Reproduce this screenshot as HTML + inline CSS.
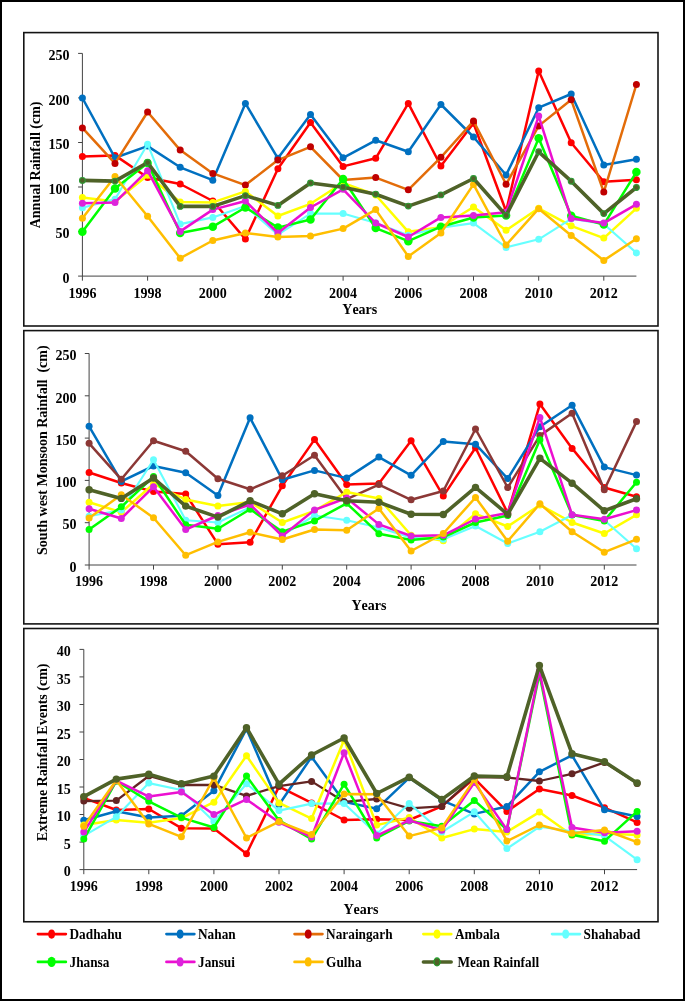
<!DOCTYPE html>
<html lang="en"><head><meta charset="utf-8"><title>Rainfall</title>
<style>html,body{margin:0;padding:0;background:#fff}svg{display:block}text{font-family:"Liberation Serif","Times New Roman",serif;font-weight:bold;fill:#000;font-kerning:none;white-space:pre}.t{font-size:14px}.s polyline{fill:none;stroke-linejoin:round;stroke-linecap:round}</style></head><body>
<svg width="685" height="1001" viewBox="0 0 685 1001">
<rect x="0" y="0" width="685" height="1001" fill="#fff"/>
<rect x="1" y="1" width="683" height="999" fill="none" stroke="#000" stroke-width="2"/>
<rect x="23.8" y="32.6" width="634.2" height="293.40" fill="#fff" stroke="#141414" stroke-width="1.6"/>
<rect x="23.8" y="330.6" width="634.2" height="293.30" fill="#fff" stroke="#141414" stroke-width="1.6"/>
<rect x="23.8" y="628.5" width="634.2" height="293.25" fill="#fff" stroke="#141414" stroke-width="1.6"/>
<g>
<path d="M82.4 53.4V276.1M78.1 276.1H636.4" stroke="#444444" stroke-width="1" fill="none"/>
<path d="M78.1 53.4H82.4M78.1 97.9H82.4M78.1 142.5H82.4M78.1 187H82.4M78.1 231.6H82.4M82.4 276.1V280.7M147.6 276.1V280.7M212.8 276.1V280.7M277.9 276.1V280.7M343.1 276.1V280.7M408.3 276.1V280.7M473.5 276.1V280.7M538.7 276.1V280.7M603.8 276.1V280.7" stroke="#444444" stroke-width="1" fill="none"/>
<text class="t" x="69.6" y="60.1" text-anchor="end">250</text>
<text class="t" x="69.6" y="104.6" text-anchor="end">200</text>
<text class="t" x="69.6" y="149.2" text-anchor="end">150</text>
<text class="t" x="69.6" y="193.7" text-anchor="end">100</text>
<text class="t" x="69.6" y="238.3" text-anchor="end">50</text>
<text class="t" x="69.6" y="282.8" text-anchor="end">0</text>
<text class="t" x="82.4" y="297.6" text-anchor="middle">1996</text>
<text class="t" x="147.6" y="297.6" text-anchor="middle">1998</text>
<text class="t" x="212.8" y="297.6" text-anchor="middle">2000</text>
<text class="t" x="277.9" y="297.6" text-anchor="middle">2002</text>
<text class="t" x="343.1" y="297.6" text-anchor="middle">2004</text>
<text class="t" x="408.3" y="297.6" text-anchor="middle">2006</text>
<text class="t" x="473.5" y="297.6" text-anchor="middle">2008</text>
<text class="t" x="538.7" y="297.6" text-anchor="middle">2010</text>
<text class="t" x="603.8" y="297.6" text-anchor="middle">2012</text>
<text class="t" x="359.8" y="313.6" text-anchor="middle">Years</text>
<text class="t" transform="translate(40.4 228.3) rotate(-90)">Annual Rainfall (cm)</text>
<g class="s">
<polyline points="82.4,156.4 115,155.4 147.6,177.5 180.2,184 212.8,201 245.4,239.1 277.9,168.8 310.5,122.5 343.1,166.4 375.7,158.3 408.3,103.4 440.9,166 473.5,123.2 506.1,211.2 538.7,71 571.2,142.8 603.8,181.8 636.4,179.8" stroke="#FF0000" stroke-width="2.5"/>
<circle cx="82.4" cy="156.4" r="3.5" fill="#FF0000"/>
<circle cx="115" cy="155.4" r="3.5" fill="#FF0000"/>
<circle cx="147.6" cy="177.5" r="3.5" fill="#FF0000"/>
<circle cx="180.2" cy="184" r="3.5" fill="#FF0000"/>
<circle cx="212.8" cy="201" r="3.5" fill="#FF0000"/>
<circle cx="245.4" cy="239.1" r="3.5" fill="#FF0000"/>
<circle cx="277.9" cy="168.8" r="3.5" fill="#FF0000"/>
<circle cx="310.5" cy="122.5" r="3.5" fill="#FF0000"/>
<circle cx="343.1" cy="166.4" r="3.5" fill="#FF0000"/>
<circle cx="375.7" cy="158.3" r="3.5" fill="#FF0000"/>
<circle cx="408.3" cy="103.4" r="3.5" fill="#FF0000"/>
<circle cx="440.9" cy="166" r="3.5" fill="#FF0000"/>
<circle cx="473.5" cy="123.2" r="3.5" fill="#FF0000"/>
<circle cx="506.1" cy="211.2" r="3.5" fill="#FF0000"/>
<circle cx="538.7" cy="71" r="3.5" fill="#FF0000"/>
<circle cx="571.2" cy="142.8" r="3.5" fill="#FF0000"/>
<circle cx="603.8" cy="181.8" r="3.5" fill="#FF0000"/>
<circle cx="636.4" cy="179.8" r="3.5" fill="#FF0000"/>
<polyline points="82.4,98 115,157.8 147.6,146.1 180.2,167.3 212.8,180.2 245.4,103.4 277.9,158.3 310.5,114.6 343.1,157.8 375.7,140.3 408.3,151.7 440.9,104.5 473.5,137 506.1,175 538.7,107.7 571.2,94 603.8,165 636.4,159.2" stroke="#0070C0" stroke-width="2.5"/>
<circle cx="82.4" cy="98" r="3.5" fill="#0070C0"/>
<circle cx="115" cy="157.8" r="3.5" fill="#0070C0"/>
<circle cx="147.6" cy="146.1" r="3.5" fill="#0070C0"/>
<circle cx="180.2" cy="167.3" r="3.5" fill="#0070C0"/>
<circle cx="212.8" cy="180.2" r="3.5" fill="#0070C0"/>
<circle cx="245.4" cy="103.4" r="3.5" fill="#0070C0"/>
<circle cx="277.9" cy="158.3" r="3.5" fill="#0070C0"/>
<circle cx="310.5" cy="114.6" r="3.5" fill="#0070C0"/>
<circle cx="343.1" cy="157.8" r="3.5" fill="#0070C0"/>
<circle cx="375.7" cy="140.3" r="3.5" fill="#0070C0"/>
<circle cx="408.3" cy="151.7" r="3.5" fill="#0070C0"/>
<circle cx="440.9" cy="104.5" r="3.5" fill="#0070C0"/>
<circle cx="473.5" cy="137" r="3.5" fill="#0070C0"/>
<circle cx="506.1" cy="175" r="3.5" fill="#0070C0"/>
<circle cx="538.7" cy="107.7" r="3.5" fill="#0070C0"/>
<circle cx="571.2" cy="94" r="3.5" fill="#0070C0"/>
<circle cx="603.8" cy="165" r="3.5" fill="#0070C0"/>
<circle cx="636.4" cy="159.2" r="3.5" fill="#0070C0"/>
<polyline points="82.4,127.9 115,163.4 147.6,112 180.2,150.1 212.8,173.4 245.4,185.1 277.9,160.1 310.5,146.8 343.1,180 375.7,177.6 408.3,189.8 440.9,157.3 473.5,121 506.1,184.3 538.7,125.9 571.2,99.8 603.8,192.1 636.4,84.5" stroke="#E36C09" stroke-width="2.5"/>
<circle cx="82.4" cy="127.9" r="3.5" fill="#C00000"/>
<circle cx="115" cy="163.4" r="3.5" fill="#C00000"/>
<circle cx="147.6" cy="112" r="3.5" fill="#C00000"/>
<circle cx="180.2" cy="150.1" r="3.5" fill="#C00000"/>
<circle cx="212.8" cy="173.4" r="3.5" fill="#C00000"/>
<circle cx="245.4" cy="185.1" r="3.5" fill="#C00000"/>
<circle cx="277.9" cy="160.1" r="3.5" fill="#C00000"/>
<circle cx="310.5" cy="146.8" r="3.5" fill="#C00000"/>
<circle cx="343.1" cy="180" r="3.5" fill="#C00000"/>
<circle cx="375.7" cy="177.6" r="3.5" fill="#C00000"/>
<circle cx="408.3" cy="189.8" r="3.5" fill="#C00000"/>
<circle cx="440.9" cy="157.3" r="3.5" fill="#C00000"/>
<circle cx="473.5" cy="121" r="3.5" fill="#C00000"/>
<circle cx="506.1" cy="184.3" r="3.5" fill="#C00000"/>
<circle cx="538.7" cy="125.9" r="3.5" fill="#C00000"/>
<circle cx="571.2" cy="99.8" r="3.5" fill="#C00000"/>
<circle cx="603.8" cy="192.1" r="3.5" fill="#C00000"/>
<circle cx="636.4" cy="84.5" r="3.5" fill="#C00000"/>
<polyline points="82.4,197.5 115,201.5 147.6,175.2 180.2,202 212.8,202.4 245.4,191.4 277.9,216 310.5,203.8 343.1,182.8 375.7,195 408.3,231.8 440.9,227.2 473.5,207 506.1,230.3 538.7,208.3 571.2,225.8 603.8,238.1 636.4,208.3" stroke="#FFFF00" stroke-width="2.5"/>
<circle cx="82.4" cy="197.5" r="3.5" fill="#FFFF00"/>
<circle cx="115" cy="201.5" r="3.5" fill="#FFFF00"/>
<circle cx="147.6" cy="175.2" r="3.5" fill="#FFFF00"/>
<circle cx="180.2" cy="202" r="3.5" fill="#FFFF00"/>
<circle cx="212.8" cy="202.4" r="3.5" fill="#FFFF00"/>
<circle cx="245.4" cy="191.4" r="3.5" fill="#FFFF00"/>
<circle cx="277.9" cy="216" r="3.5" fill="#FFFF00"/>
<circle cx="310.5" cy="203.8" r="3.5" fill="#FFFF00"/>
<circle cx="343.1" cy="182.8" r="3.5" fill="#FFFF00"/>
<circle cx="375.7" cy="195" r="3.5" fill="#FFFF00"/>
<circle cx="408.3" cy="231.8" r="3.5" fill="#FFFF00"/>
<circle cx="440.9" cy="227.2" r="3.5" fill="#FFFF00"/>
<circle cx="473.5" cy="207" r="3.5" fill="#FFFF00"/>
<circle cx="506.1" cy="230.3" r="3.5" fill="#FFFF00"/>
<circle cx="538.7" cy="208.3" r="3.5" fill="#FFFF00"/>
<circle cx="571.2" cy="225.8" r="3.5" fill="#FFFF00"/>
<circle cx="603.8" cy="238.1" r="3.5" fill="#FFFF00"/>
<circle cx="636.4" cy="208.3" r="3.5" fill="#FFFF00"/>
<polyline points="82.4,207.8 115,199.2 147.6,144.2 180.2,224.1 212.8,217.4 245.4,206.1 277.9,234.6 310.5,213.6 343.1,213.6 375.7,223 408.3,235.3 440.9,227.6 473.5,223.1 506.1,247.4 538.7,239.3 571.2,218.8 603.8,224 636.4,252.9" stroke="#66FFFF" stroke-width="2.1"/>
<circle cx="82.4" cy="207.8" r="3.5" fill="#66FFFF"/>
<circle cx="115" cy="199.2" r="3.5" fill="#66FFFF"/>
<circle cx="147.6" cy="144.2" r="3.5" fill="#66FFFF"/>
<circle cx="180.2" cy="224.1" r="3.5" fill="#66FFFF"/>
<circle cx="212.8" cy="217.4" r="3.5" fill="#66FFFF"/>
<circle cx="245.4" cy="206.1" r="3.5" fill="#66FFFF"/>
<circle cx="277.9" cy="234.6" r="3.5" fill="#66FFFF"/>
<circle cx="310.5" cy="213.6" r="3.5" fill="#66FFFF"/>
<circle cx="343.1" cy="213.6" r="3.5" fill="#66FFFF"/>
<circle cx="375.7" cy="223" r="3.5" fill="#66FFFF"/>
<circle cx="408.3" cy="235.3" r="3.5" fill="#66FFFF"/>
<circle cx="440.9" cy="227.6" r="3.5" fill="#66FFFF"/>
<circle cx="473.5" cy="223.1" r="3.5" fill="#66FFFF"/>
<circle cx="506.1" cy="247.4" r="3.5" fill="#66FFFF"/>
<circle cx="538.7" cy="239.3" r="3.5" fill="#66FFFF"/>
<circle cx="571.2" cy="218.8" r="3.5" fill="#66FFFF"/>
<circle cx="603.8" cy="224" r="3.5" fill="#66FFFF"/>
<circle cx="636.4" cy="252.9" r="3.5" fill="#66FFFF"/>
<polyline points="82.4,231.8 115,188.6 147.6,163 180.2,233 212.8,226.7 245.4,207.5 277.9,227.6 310.5,219.5 343.1,179 375.7,228.1 408.3,241.2 440.9,226.7 473.5,217.5 506.1,215.4 538.7,138.3 571.2,215.7 603.8,224.6 636.4,172.1" stroke="#00FF00" stroke-width="2.5"/>
<circle cx="82.4" cy="231.8" r="4.25" fill="#00FF00"/>
<circle cx="115" cy="188.6" r="4.25" fill="#00FF00"/>
<circle cx="147.6" cy="163" r="4.25" fill="#00FF00"/>
<circle cx="180.2" cy="233" r="4.25" fill="#00FF00"/>
<circle cx="212.8" cy="226.7" r="4.25" fill="#00FF00"/>
<circle cx="245.4" cy="207.5" r="4.25" fill="#00FF00"/>
<circle cx="277.9" cy="227.6" r="4.25" fill="#00FF00"/>
<circle cx="310.5" cy="219.5" r="4.25" fill="#00FF00"/>
<circle cx="343.1" cy="179" r="4.25" fill="#00FF00"/>
<circle cx="375.7" cy="228.1" r="4.25" fill="#00FF00"/>
<circle cx="408.3" cy="241.2" r="4.25" fill="#00FF00"/>
<circle cx="440.9" cy="226.7" r="4.25" fill="#00FF00"/>
<circle cx="473.5" cy="217.5" r="4.25" fill="#00FF00"/>
<circle cx="506.1" cy="215.4" r="4.25" fill="#00FF00"/>
<circle cx="538.7" cy="138.3" r="4.25" fill="#00FF00"/>
<circle cx="571.2" cy="215.7" r="4.25" fill="#00FF00"/>
<circle cx="603.8" cy="224.6" r="4.25" fill="#00FF00"/>
<circle cx="636.4" cy="172.1" r="4.25" fill="#00FF00"/>
<polyline points="82.4,203.3 115,202.4 147.6,170.7 180.2,231.4 212.8,209.6 245.4,201 277.9,233 310.5,207.5 343.1,189.3 375.7,223 408.3,237 440.9,217.4 473.5,215.4 506.1,212.3 538.7,116.1 571.2,218.5 603.8,223.1 636.4,204.3" stroke="#EC0FD0" stroke-width="2.5"/>
<circle cx="82.4" cy="203.3" r="3.5" fill="#DC24DC"/>
<circle cx="115" cy="202.4" r="3.5" fill="#DC24DC"/>
<circle cx="147.6" cy="170.7" r="3.5" fill="#DC24DC"/>
<circle cx="180.2" cy="231.4" r="3.5" fill="#DC24DC"/>
<circle cx="212.8" cy="209.6" r="3.5" fill="#DC24DC"/>
<circle cx="245.4" cy="201" r="3.5" fill="#DC24DC"/>
<circle cx="277.9" cy="233" r="3.5" fill="#DC24DC"/>
<circle cx="310.5" cy="207.5" r="3.5" fill="#DC24DC"/>
<circle cx="343.1" cy="189.3" r="3.5" fill="#DC24DC"/>
<circle cx="375.7" cy="223" r="3.5" fill="#DC24DC"/>
<circle cx="408.3" cy="237" r="3.5" fill="#DC24DC"/>
<circle cx="440.9" cy="217.4" r="3.5" fill="#DC24DC"/>
<circle cx="473.5" cy="215.4" r="3.5" fill="#DC24DC"/>
<circle cx="506.1" cy="212.3" r="3.5" fill="#DC24DC"/>
<circle cx="538.7" cy="116.1" r="3.5" fill="#DC24DC"/>
<circle cx="571.2" cy="218.5" r="3.5" fill="#DC24DC"/>
<circle cx="603.8" cy="223.1" r="3.5" fill="#DC24DC"/>
<circle cx="636.4" cy="204.3" r="3.5" fill="#DC24DC"/>
<polyline points="82.4,218.3 115,176.5 147.6,216.2 180.2,258.2 212.8,240.5 245.4,233 277.9,237 310.5,236 343.1,228.6 375.7,209.6 408.3,256.4 440.9,233 473.5,184.4 506.1,245 538.7,208.7 571.2,235.5 603.8,260.4 636.4,238.7" stroke="#FFBE00" stroke-width="2.5"/>
<circle cx="82.4" cy="218.3" r="3.5" fill="#FFBE00"/>
<circle cx="115" cy="176.5" r="3.5" fill="#FFBE00"/>
<circle cx="147.6" cy="216.2" r="3.5" fill="#FFBE00"/>
<circle cx="180.2" cy="258.2" r="3.5" fill="#FFBE00"/>
<circle cx="212.8" cy="240.5" r="3.5" fill="#FFBE00"/>
<circle cx="245.4" cy="233" r="3.5" fill="#FFBE00"/>
<circle cx="277.9" cy="237" r="3.5" fill="#FFBE00"/>
<circle cx="310.5" cy="236" r="3.5" fill="#FFBE00"/>
<circle cx="343.1" cy="228.6" r="3.5" fill="#FFBE00"/>
<circle cx="375.7" cy="209.6" r="3.5" fill="#FFBE00"/>
<circle cx="408.3" cy="256.4" r="3.5" fill="#FFBE00"/>
<circle cx="440.9" cy="233" r="3.5" fill="#FFBE00"/>
<circle cx="473.5" cy="184.4" r="3.5" fill="#FFBE00"/>
<circle cx="506.1" cy="245" r="3.5" fill="#FFBE00"/>
<circle cx="538.7" cy="208.7" r="3.5" fill="#FFBE00"/>
<circle cx="571.2" cy="235.5" r="3.5" fill="#FFBE00"/>
<circle cx="603.8" cy="260.4" r="3.5" fill="#FFBE00"/>
<circle cx="636.4" cy="238.7" r="3.5" fill="#FFBE00"/>
<polyline points="82.4,180.4 115,181.1 147.6,162.5 180.2,206.4 212.8,206.4 245.4,195.6 277.9,205.4 310.5,183 343.1,187.2 375.7,194.2 408.3,206.1 440.9,194.9 473.5,178.5 506.1,215.4 538.7,151.8 571.2,181.2 603.8,213.6 636.4,187.5" stroke="#4F6228" stroke-width="3.6"/>
<circle cx="82.4" cy="180.4" r="2.9" fill="#4F6228" stroke="#2D9A35" stroke-width="1.1"/>
<circle cx="115" cy="181.1" r="2.9" fill="#4F6228" stroke="#2D9A35" stroke-width="1.1"/>
<circle cx="147.6" cy="162.5" r="2.9" fill="#4F6228" stroke="#2D9A35" stroke-width="1.1"/>
<circle cx="180.2" cy="206.4" r="2.9" fill="#4F6228" stroke="#2D9A35" stroke-width="1.1"/>
<circle cx="212.8" cy="206.4" r="2.9" fill="#4F6228" stroke="#2D9A35" stroke-width="1.1"/>
<circle cx="245.4" cy="195.6" r="2.9" fill="#4F6228" stroke="#2D9A35" stroke-width="1.1"/>
<circle cx="277.9" cy="205.4" r="2.9" fill="#4F6228" stroke="#2D9A35" stroke-width="1.1"/>
<circle cx="310.5" cy="183" r="2.9" fill="#4F6228" stroke="#2D9A35" stroke-width="1.1"/>
<circle cx="343.1" cy="187.2" r="2.9" fill="#4F6228" stroke="#2D9A35" stroke-width="1.1"/>
<circle cx="375.7" cy="194.2" r="2.9" fill="#4F6228" stroke="#2D9A35" stroke-width="1.1"/>
<circle cx="408.3" cy="206.1" r="2.9" fill="#4F6228" stroke="#2D9A35" stroke-width="1.1"/>
<circle cx="440.9" cy="194.9" r="2.9" fill="#4F6228" stroke="#2D9A35" stroke-width="1.1"/>
<circle cx="473.5" cy="178.5" r="2.9" fill="#4F6228" stroke="#2D9A35" stroke-width="1.1"/>
<circle cx="506.1" cy="215.4" r="2.9" fill="#4F6228" stroke="#2D9A35" stroke-width="1.1"/>
<circle cx="538.7" cy="151.8" r="2.9" fill="#4F6228" stroke="#2D9A35" stroke-width="1.1"/>
<circle cx="571.2" cy="181.2" r="2.9" fill="#4F6228" stroke="#2D9A35" stroke-width="1.1"/>
<circle cx="603.8" cy="213.6" r="2.9" fill="#4F6228" stroke="#2D9A35" stroke-width="1.1"/>
<circle cx="636.4" cy="187.5" r="2.9" fill="#4F6228" stroke="#2D9A35" stroke-width="1.1"/>
</g></g>
<g>
<path d="M89.1 353.5V565M84.8 565H636.5" stroke="#444444" stroke-width="1" fill="none"/>
<path d="M84.8 353.5H89.1M84.8 395.8H89.1M84.8 438.1H89.1M84.8 480.4H89.1M84.8 522.7H89.1M89.1 565V569.6M153.5 565V569.6M217.9 565V569.6M282.3 565V569.6M346.7 565V569.6M411.1 565V569.6M475.5 565V569.6M539.9 565V569.6M604.3 565V569.6" stroke="#444444" stroke-width="1" fill="none"/>
<text class="t" x="76.6" y="360.2" text-anchor="end">250</text>
<text class="t" x="76.6" y="402.5" text-anchor="end">200</text>
<text class="t" x="76.6" y="444.8" text-anchor="end">150</text>
<text class="t" x="76.6" y="487.1" text-anchor="end">100</text>
<text class="t" x="76.6" y="529.4" text-anchor="end">50</text>
<text class="t" x="76.6" y="571.7" text-anchor="end">0</text>
<text class="t" x="89.1" y="586" text-anchor="middle">1996</text>
<text class="t" x="153.5" y="586" text-anchor="middle">1998</text>
<text class="t" x="217.9" y="586" text-anchor="middle">2000</text>
<text class="t" x="282.3" y="586" text-anchor="middle">2002</text>
<text class="t" x="346.7" y="586" text-anchor="middle">2004</text>
<text class="t" x="411.1" y="586" text-anchor="middle">2006</text>
<text class="t" x="475.5" y="586" text-anchor="middle">2008</text>
<text class="t" x="539.9" y="586" text-anchor="middle">2010</text>
<text class="t" x="604.3" y="586" text-anchor="middle">2012</text>
<text class="t" x="368.9" y="609.7" text-anchor="middle">Years</text>
<text class="t" transform="translate(46.5 555) rotate(-90)">South west Monsoon Rainfall  (cm)</text>
<g class="s">
<polyline points="89.1,472.5 121.3,483 153.5,491.6 185.7,494 217.9,544.2 250.1,542.3 282.3,485.8 314.5,439.6 346.7,484.6 378.9,483.5 411.1,440.7 443.3,496.1 475.5,447.7 507.7,513.1 539.9,404.1 572.1,448.4 604.3,487.5 636.5,496.8" stroke="#FF0000" stroke-width="2.5"/>
<circle cx="89.1" cy="472.5" r="3.5" fill="#FF0000"/>
<circle cx="121.3" cy="483" r="3.5" fill="#FF0000"/>
<circle cx="153.5" cy="491.6" r="3.5" fill="#FF0000"/>
<circle cx="185.7" cy="494" r="3.5" fill="#FF0000"/>
<circle cx="217.9" cy="544.2" r="3.5" fill="#FF0000"/>
<circle cx="250.1" cy="542.3" r="3.5" fill="#FF0000"/>
<circle cx="282.3" cy="485.8" r="3.5" fill="#FF0000"/>
<circle cx="314.5" cy="439.6" r="3.5" fill="#FF0000"/>
<circle cx="346.7" cy="484.6" r="3.5" fill="#FF0000"/>
<circle cx="378.9" cy="483.5" r="3.5" fill="#FF0000"/>
<circle cx="411.1" cy="440.7" r="3.5" fill="#FF0000"/>
<circle cx="443.3" cy="496.1" r="3.5" fill="#FF0000"/>
<circle cx="475.5" cy="447.7" r="3.5" fill="#FF0000"/>
<circle cx="507.7" cy="513.1" r="3.5" fill="#FF0000"/>
<circle cx="539.9" cy="404.1" r="3.5" fill="#FF0000"/>
<circle cx="572.1" cy="448.4" r="3.5" fill="#FF0000"/>
<circle cx="604.3" cy="487.5" r="3.5" fill="#FF0000"/>
<circle cx="636.5" cy="496.8" r="3.5" fill="#FF0000"/>
<polyline points="89.1,426.3 121.3,481.4 153.5,466 185.7,472.7 217.9,495.6 250.1,417.8 282.3,479.7 314.5,470.4 346.7,478.1 378.9,457.1 411.1,475.3 443.3,441.4 475.5,444.2 507.7,478.6 539.9,426.7 572.1,405.2 604.3,467.1 636.5,475.1" stroke="#0070C0" stroke-width="2.5"/>
<circle cx="89.1" cy="426.3" r="3.5" fill="#0070C0"/>
<circle cx="121.3" cy="481.4" r="3.5" fill="#0070C0"/>
<circle cx="153.5" cy="466" r="3.5" fill="#0070C0"/>
<circle cx="185.7" cy="472.7" r="3.5" fill="#0070C0"/>
<circle cx="217.9" cy="495.6" r="3.5" fill="#0070C0"/>
<circle cx="250.1" cy="417.8" r="3.5" fill="#0070C0"/>
<circle cx="282.3" cy="479.7" r="3.5" fill="#0070C0"/>
<circle cx="314.5" cy="470.4" r="3.5" fill="#0070C0"/>
<circle cx="346.7" cy="478.1" r="3.5" fill="#0070C0"/>
<circle cx="378.9" cy="457.1" r="3.5" fill="#0070C0"/>
<circle cx="411.1" cy="475.3" r="3.5" fill="#0070C0"/>
<circle cx="443.3" cy="441.4" r="3.5" fill="#0070C0"/>
<circle cx="475.5" cy="444.2" r="3.5" fill="#0070C0"/>
<circle cx="507.7" cy="478.6" r="3.5" fill="#0070C0"/>
<circle cx="539.9" cy="426.7" r="3.5" fill="#0070C0"/>
<circle cx="572.1" cy="405.2" r="3.5" fill="#0070C0"/>
<circle cx="604.3" cy="467.1" r="3.5" fill="#0070C0"/>
<circle cx="636.5" cy="475.1" r="3.5" fill="#0070C0"/>
<polyline points="89.1,443.3 121.3,479.3 153.5,440.7 185.7,451.2 217.9,478.8 250.1,489.3 282.3,475.8 314.5,455.2 346.7,499.1 378.9,484.6 411.1,499.8 443.3,491 475.5,429 507.7,487.5 539.9,435.6 572.1,413.2 604.3,489.8 636.5,421.6" stroke="#8C3836" stroke-width="2.5"/>
<circle cx="89.1" cy="443.3" r="3.5" fill="#8C3836"/>
<circle cx="121.3" cy="479.3" r="3.5" fill="#8C3836"/>
<circle cx="153.5" cy="440.7" r="3.5" fill="#8C3836"/>
<circle cx="185.7" cy="451.2" r="3.5" fill="#8C3836"/>
<circle cx="217.9" cy="478.8" r="3.5" fill="#8C3836"/>
<circle cx="250.1" cy="489.3" r="3.5" fill="#8C3836"/>
<circle cx="282.3" cy="475.8" r="3.5" fill="#8C3836"/>
<circle cx="314.5" cy="455.2" r="3.5" fill="#8C3836"/>
<circle cx="346.7" cy="499.1" r="3.5" fill="#8C3836"/>
<circle cx="378.9" cy="484.6" r="3.5" fill="#8C3836"/>
<circle cx="411.1" cy="499.8" r="3.5" fill="#8C3836"/>
<circle cx="443.3" cy="491" r="3.5" fill="#8C3836"/>
<circle cx="475.5" cy="429" r="3.5" fill="#8C3836"/>
<circle cx="507.7" cy="487.5" r="3.5" fill="#8C3836"/>
<circle cx="539.9" cy="435.6" r="3.5" fill="#8C3836"/>
<circle cx="572.1" cy="413.2" r="3.5" fill="#8C3836"/>
<circle cx="604.3" cy="489.8" r="3.5" fill="#8C3836"/>
<circle cx="636.5" cy="421.6" r="3.5" fill="#8C3836"/>
<polyline points="89.1,502.2 121.3,512.3 153.5,484 185.7,499.6 217.9,506.1 250.1,502 282.3,522.5 314.5,510.8 346.7,492.1 378.9,498.4 411.1,535.3 443.3,540.7 475.5,513.8 507.7,526.5 539.9,505 572.1,522.5 604.3,533.5 636.5,514.8" stroke="#FFFF00" stroke-width="2.5"/>
<circle cx="89.1" cy="502.2" r="3.5" fill="#FFFF00"/>
<circle cx="121.3" cy="512.3" r="3.5" fill="#FFFF00"/>
<circle cx="153.5" cy="484" r="3.5" fill="#FFFF00"/>
<circle cx="185.7" cy="499.6" r="3.5" fill="#FFFF00"/>
<circle cx="217.9" cy="506.1" r="3.5" fill="#FFFF00"/>
<circle cx="250.1" cy="502" r="3.5" fill="#FFFF00"/>
<circle cx="282.3" cy="522.5" r="3.5" fill="#FFFF00"/>
<circle cx="314.5" cy="510.8" r="3.5" fill="#FFFF00"/>
<circle cx="346.7" cy="492.1" r="3.5" fill="#FFFF00"/>
<circle cx="378.9" cy="498.4" r="3.5" fill="#FFFF00"/>
<circle cx="411.1" cy="535.3" r="3.5" fill="#FFFF00"/>
<circle cx="443.3" cy="540.7" r="3.5" fill="#FFFF00"/>
<circle cx="475.5" cy="513.8" r="3.5" fill="#FFFF00"/>
<circle cx="507.7" cy="526.5" r="3.5" fill="#FFFF00"/>
<circle cx="539.9" cy="505" r="3.5" fill="#FFFF00"/>
<circle cx="572.1" cy="522.5" r="3.5" fill="#FFFF00"/>
<circle cx="604.3" cy="533.5" r="3.5" fill="#FFFF00"/>
<circle cx="636.5" cy="514.8" r="3.5" fill="#FFFF00"/>
<polyline points="89.1,516.2 121.3,510 153.5,459.8 185.7,520.2 217.9,522.5 250.1,507.3 282.3,535.3 314.5,515.5 346.7,520.2 378.9,527.6 411.1,537.7 443.3,539.3 475.5,526 507.7,543.5 539.9,531.8 572.1,515 604.3,520.2 636.5,548.7" stroke="#66FFFF" stroke-width="2.1"/>
<circle cx="89.1" cy="516.2" r="3.5" fill="#66FFFF"/>
<circle cx="121.3" cy="510" r="3.5" fill="#66FFFF"/>
<circle cx="153.5" cy="459.8" r="3.5" fill="#66FFFF"/>
<circle cx="185.7" cy="520.2" r="3.5" fill="#66FFFF"/>
<circle cx="217.9" cy="522.5" r="3.5" fill="#66FFFF"/>
<circle cx="250.1" cy="507.3" r="3.5" fill="#66FFFF"/>
<circle cx="282.3" cy="535.3" r="3.5" fill="#66FFFF"/>
<circle cx="314.5" cy="515.5" r="3.5" fill="#66FFFF"/>
<circle cx="346.7" cy="520.2" r="3.5" fill="#66FFFF"/>
<circle cx="378.9" cy="527.6" r="3.5" fill="#66FFFF"/>
<circle cx="411.1" cy="537.7" r="3.5" fill="#66FFFF"/>
<circle cx="443.3" cy="539.3" r="3.5" fill="#66FFFF"/>
<circle cx="475.5" cy="526" r="3.5" fill="#66FFFF"/>
<circle cx="507.7" cy="543.5" r="3.5" fill="#66FFFF"/>
<circle cx="539.9" cy="531.8" r="3.5" fill="#66FFFF"/>
<circle cx="572.1" cy="515" r="3.5" fill="#66FFFF"/>
<circle cx="604.3" cy="520.2" r="3.5" fill="#66FFFF"/>
<circle cx="636.5" cy="548.7" r="3.5" fill="#66FFFF"/>
<polyline points="89.1,529.5 121.3,506.8 153.5,476.5 185.7,524.8 217.9,528.8 250.1,509.2 282.3,531.8 314.5,520.9 346.7,503.3 378.9,533.7 411.1,540 443.3,537 475.5,522.5 507.7,515.5 539.9,439.8 572.1,515 604.3,520.9 636.5,482.3" stroke="#00FF00" stroke-width="2.5"/>
<circle cx="89.1" cy="529.5" r="3.5" fill="#00FF00"/>
<circle cx="121.3" cy="506.8" r="3.5" fill="#00FF00"/>
<circle cx="153.5" cy="476.5" r="3.5" fill="#00FF00"/>
<circle cx="185.7" cy="524.8" r="3.5" fill="#00FF00"/>
<circle cx="217.9" cy="528.8" r="3.5" fill="#00FF00"/>
<circle cx="250.1" cy="509.2" r="3.5" fill="#00FF00"/>
<circle cx="282.3" cy="531.8" r="3.5" fill="#00FF00"/>
<circle cx="314.5" cy="520.9" r="3.5" fill="#00FF00"/>
<circle cx="346.7" cy="503.3" r="3.5" fill="#00FF00"/>
<circle cx="378.9" cy="533.7" r="3.5" fill="#00FF00"/>
<circle cx="411.1" cy="540" r="3.5" fill="#00FF00"/>
<circle cx="443.3" cy="537" r="3.5" fill="#00FF00"/>
<circle cx="475.5" cy="522.5" r="3.5" fill="#00FF00"/>
<circle cx="507.7" cy="515.5" r="3.5" fill="#00FF00"/>
<circle cx="539.9" cy="439.8" r="3.5" fill="#00FF00"/>
<circle cx="572.1" cy="515" r="3.5" fill="#00FF00"/>
<circle cx="604.3" cy="520.9" r="3.5" fill="#00FF00"/>
<circle cx="636.5" cy="482.3" r="3.5" fill="#00FF00"/>
<polyline points="89.1,508.7 121.3,518.5 153.5,486.8 185.7,529.5 217.9,515.5 250.1,504.5 282.3,536 314.5,509.9 346.7,498 378.9,524.4 411.1,536 443.3,535.3 475.5,519 507.7,513.1 539.9,417.4 572.1,514.8 604.3,519.2 636.5,510.1" stroke="#EC0FD0" stroke-width="2.5"/>
<circle cx="89.1" cy="508.7" r="3.5" fill="#DC24DC"/>
<circle cx="121.3" cy="518.5" r="3.5" fill="#DC24DC"/>
<circle cx="153.5" cy="486.8" r="3.5" fill="#DC24DC"/>
<circle cx="185.7" cy="529.5" r="3.5" fill="#DC24DC"/>
<circle cx="217.9" cy="515.5" r="3.5" fill="#DC24DC"/>
<circle cx="250.1" cy="504.5" r="3.5" fill="#DC24DC"/>
<circle cx="282.3" cy="536" r="3.5" fill="#DC24DC"/>
<circle cx="314.5" cy="509.9" r="3.5" fill="#DC24DC"/>
<circle cx="346.7" cy="498" r="3.5" fill="#DC24DC"/>
<circle cx="378.9" cy="524.4" r="3.5" fill="#DC24DC"/>
<circle cx="411.1" cy="536" r="3.5" fill="#DC24DC"/>
<circle cx="443.3" cy="535.3" r="3.5" fill="#DC24DC"/>
<circle cx="475.5" cy="519" r="3.5" fill="#DC24DC"/>
<circle cx="507.7" cy="513.1" r="3.5" fill="#DC24DC"/>
<circle cx="539.9" cy="417.4" r="3.5" fill="#DC24DC"/>
<circle cx="572.1" cy="514.8" r="3.5" fill="#DC24DC"/>
<circle cx="604.3" cy="519.2" r="3.5" fill="#DC24DC"/>
<circle cx="636.5" cy="510.1" r="3.5" fill="#DC24DC"/>
<polyline points="89.1,518.1 121.3,494.7 153.5,517.8 185.7,555.2 217.9,541.9 250.1,532.3 282.3,539.5 314.5,529.5 346.7,530.2 378.9,508.5 411.1,551 443.3,533.5 475.5,497.5 507.7,541.2 539.9,503.8 572.1,531.8 604.3,552.2 636.5,539.3" stroke="#FFBE00" stroke-width="2.5"/>
<circle cx="89.1" cy="518.1" r="3.5" fill="#FFBE00"/>
<circle cx="121.3" cy="494.7" r="3.5" fill="#FFBE00"/>
<circle cx="153.5" cy="517.8" r="3.5" fill="#FFBE00"/>
<circle cx="185.7" cy="555.2" r="3.5" fill="#FFBE00"/>
<circle cx="217.9" cy="541.9" r="3.5" fill="#FFBE00"/>
<circle cx="250.1" cy="532.3" r="3.5" fill="#FFBE00"/>
<circle cx="282.3" cy="539.5" r="3.5" fill="#FFBE00"/>
<circle cx="314.5" cy="529.5" r="3.5" fill="#FFBE00"/>
<circle cx="346.7" cy="530.2" r="3.5" fill="#FFBE00"/>
<circle cx="378.9" cy="508.5" r="3.5" fill="#FFBE00"/>
<circle cx="411.1" cy="551" r="3.5" fill="#FFBE00"/>
<circle cx="443.3" cy="533.5" r="3.5" fill="#FFBE00"/>
<circle cx="475.5" cy="497.5" r="3.5" fill="#FFBE00"/>
<circle cx="507.7" cy="541.2" r="3.5" fill="#FFBE00"/>
<circle cx="539.9" cy="503.8" r="3.5" fill="#FFBE00"/>
<circle cx="572.1" cy="531.8" r="3.5" fill="#FFBE00"/>
<circle cx="604.3" cy="552.2" r="3.5" fill="#FFBE00"/>
<circle cx="636.5" cy="539.3" r="3.5" fill="#FFBE00"/>
<polyline points="89.1,489.8 121.3,498.4 153.5,478 185.7,506.1 217.9,517.1 250.1,500.8 282.3,513.8 314.5,493.8 346.7,500.8 378.9,502.2 411.1,514.3 443.3,514.5 475.5,487.4 507.7,514.3 539.9,458.3 572.1,483.2 604.3,510.8 636.5,498.7" stroke="#4F6228" stroke-width="3.6"/>
<circle cx="89.1" cy="489.8" r="3.7" fill="#4F6228"/>
<circle cx="121.3" cy="498.4" r="3.7" fill="#4F6228"/>
<circle cx="153.5" cy="478" r="3.7" fill="#4F6228"/>
<circle cx="185.7" cy="506.1" r="3.7" fill="#4F6228"/>
<circle cx="217.9" cy="517.1" r="3.7" fill="#4F6228"/>
<circle cx="250.1" cy="500.8" r="3.7" fill="#4F6228"/>
<circle cx="282.3" cy="513.8" r="3.7" fill="#4F6228"/>
<circle cx="314.5" cy="493.8" r="3.7" fill="#4F6228"/>
<circle cx="346.7" cy="500.8" r="3.7" fill="#4F6228"/>
<circle cx="378.9" cy="502.2" r="3.7" fill="#4F6228"/>
<circle cx="411.1" cy="514.3" r="3.7" fill="#4F6228"/>
<circle cx="443.3" cy="514.5" r="3.7" fill="#4F6228"/>
<circle cx="475.5" cy="487.4" r="3.7" fill="#4F6228"/>
<circle cx="507.7" cy="514.3" r="3.7" fill="#4F6228"/>
<circle cx="539.9" cy="458.3" r="3.7" fill="#4F6228"/>
<circle cx="572.1" cy="483.2" r="3.7" fill="#4F6228"/>
<circle cx="604.3" cy="510.8" r="3.7" fill="#4F6228"/>
<circle cx="636.5" cy="498.7" r="3.7" fill="#4F6228"/>
</g></g>
<g>
<path d="M83.8 649.4V869.6M79.5 869.6H637.1" stroke="#444444" stroke-width="1" fill="none"/>
<path d="M79.5 649.4H83.8M79.5 676.9H83.8M79.5 704.5H83.8M79.5 732H83.8M79.5 759.5H83.8M79.5 787H83.8M79.5 814.5H83.8M79.5 842.1H83.8M83.8 869.6V874.2M148.8 869.6V874.2M213.9 869.6V874.2M279 869.6V874.2M344.1 869.6V874.2M409.2 869.6V874.2M474.3 869.6V874.2M539.4 869.6V874.2M604.5 869.6V874.2" stroke="#444444" stroke-width="1" fill="none"/>
<text class="t" x="70.8" y="656.1" text-anchor="end">40</text>
<text class="t" x="70.8" y="683.6" text-anchor="end">35</text>
<text class="t" x="70.8" y="711.2" text-anchor="end">30</text>
<text class="t" x="70.8" y="738.7" text-anchor="end">25</text>
<text class="t" x="70.8" y="766.2" text-anchor="end">20</text>
<text class="t" x="70.8" y="793.7" text-anchor="end">15</text>
<text class="t" x="70.8" y="821.2" text-anchor="end">10</text>
<text class="t" x="70.8" y="848.8" text-anchor="end">5</text>
<text class="t" x="70.8" y="876.3" text-anchor="end">0</text>
<text class="t" x="83.8" y="890.6" text-anchor="middle">1996</text>
<text class="t" x="148.8" y="890.6" text-anchor="middle">1998</text>
<text class="t" x="213.9" y="890.6" text-anchor="middle">2000</text>
<text class="t" x="279" y="890.6" text-anchor="middle">2002</text>
<text class="t" x="344.1" y="890.6" text-anchor="middle">2004</text>
<text class="t" x="409.2" y="890.6" text-anchor="middle">2006</text>
<text class="t" x="474.3" y="890.6" text-anchor="middle">2008</text>
<text class="t" x="539.4" y="890.6" text-anchor="middle">2010</text>
<text class="t" x="604.5" y="890.6" text-anchor="middle">2012</text>
<text class="t" x="361" y="914" text-anchor="middle">Years</text>
<text class="t" transform="translate(46.5 841.2) rotate(-90)">Extreme Rainfall Events (cm)</text>
<g class="s">
<polyline points="83.8,797.8 116.3,810 148.8,809 181.4,828.2 213.9,828.6 246.5,853.8 279,786.6 311.6,802.9 344.1,820 376.7,819.3 409.2,820 441.8,806.4 474.3,778.4 506.9,811.4 539.4,789 572,795.5 604.5,807.7 637.1,822.4" stroke="#FF0000" stroke-width="2.5"/>
<circle cx="83.8" cy="797.8" r="3.5" fill="#FF0000"/>
<circle cx="116.3" cy="810" r="3.5" fill="#FF0000"/>
<circle cx="148.8" cy="809" r="3.5" fill="#FF0000"/>
<circle cx="181.4" cy="828.2" r="3.5" fill="#FF0000"/>
<circle cx="213.9" cy="828.6" r="3.5" fill="#FF0000"/>
<circle cx="246.5" cy="853.8" r="3.5" fill="#FF0000"/>
<circle cx="279" cy="786.6" r="3.5" fill="#FF0000"/>
<circle cx="311.6" cy="802.9" r="3.5" fill="#FF0000"/>
<circle cx="344.1" cy="820" r="3.5" fill="#FF0000"/>
<circle cx="376.7" cy="819.3" r="3.5" fill="#FF0000"/>
<circle cx="409.2" cy="820" r="3.5" fill="#FF0000"/>
<circle cx="441.8" cy="806.4" r="3.5" fill="#FF0000"/>
<circle cx="474.3" cy="778.4" r="3.5" fill="#FF0000"/>
<circle cx="506.9" cy="811.4" r="3.5" fill="#FF0000"/>
<circle cx="539.4" cy="789" r="3.5" fill="#FF0000"/>
<circle cx="572" cy="795.5" r="3.5" fill="#FF0000"/>
<circle cx="604.5" cy="807.7" r="3.5" fill="#FF0000"/>
<circle cx="637.1" cy="822.4" r="3.5" fill="#FF0000"/>
<polyline points="83.8,820.2 116.3,811.2 148.8,817.6 181.4,815.8 213.9,790.8 246.5,728.9 279,804.8 311.6,756.9 344.1,801.8 376.7,808.8 409.2,777.8 441.8,800.3 474.3,813.9 506.9,806.5 539.4,771.8 572,755.3 604.5,809.8 637.1,816.5" stroke="#0070C0" stroke-width="2.5"/>
<circle cx="83.8" cy="820.2" r="3.5" fill="#0070C0"/>
<circle cx="116.3" cy="811.2" r="3.5" fill="#0070C0"/>
<circle cx="148.8" cy="817.6" r="3.5" fill="#0070C0"/>
<circle cx="181.4" cy="815.8" r="3.5" fill="#0070C0"/>
<circle cx="213.9" cy="790.8" r="3.5" fill="#0070C0"/>
<circle cx="246.5" cy="728.9" r="3.5" fill="#0070C0"/>
<circle cx="279" cy="804.8" r="3.5" fill="#0070C0"/>
<circle cx="311.6" cy="756.9" r="3.5" fill="#0070C0"/>
<circle cx="344.1" cy="801.8" r="3.5" fill="#0070C0"/>
<circle cx="376.7" cy="808.8" r="3.5" fill="#0070C0"/>
<circle cx="409.2" cy="777.8" r="3.5" fill="#0070C0"/>
<circle cx="441.8" cy="800.3" r="3.5" fill="#0070C0"/>
<circle cx="474.3" cy="813.9" r="3.5" fill="#0070C0"/>
<circle cx="506.9" cy="806.5" r="3.5" fill="#0070C0"/>
<circle cx="539.4" cy="771.8" r="3.5" fill="#0070C0"/>
<circle cx="572" cy="755.3" r="3.5" fill="#0070C0"/>
<circle cx="604.5" cy="809.8" r="3.5" fill="#0070C0"/>
<circle cx="637.1" cy="816.5" r="3.5" fill="#0070C0"/>
<polyline points="83.8,801.1 116.3,800.6 148.8,776 181.4,785 213.9,784.9 246.5,795.9 279,786.1 311.6,781.4 344.1,801.8 376.7,799 409.2,808.3 441.8,806.4 474.3,777.2 506.9,777.5 539.4,781 572,773.8 604.5,762.4 637.1,783.4" stroke="#632523" stroke-width="2.3"/>
<circle cx="83.8" cy="801.1" r="3.5" fill="#632523"/>
<circle cx="116.3" cy="800.6" r="3.5" fill="#632523"/>
<circle cx="148.8" cy="776" r="3.5" fill="#632523"/>
<circle cx="181.4" cy="785" r="3.5" fill="#632523"/>
<circle cx="213.9" cy="784.9" r="3.5" fill="#632523"/>
<circle cx="246.5" cy="795.9" r="3.5" fill="#632523"/>
<circle cx="279" cy="786.1" r="3.5" fill="#632523"/>
<circle cx="311.6" cy="781.4" r="3.5" fill="#632523"/>
<circle cx="344.1" cy="801.8" r="3.5" fill="#632523"/>
<circle cx="376.7" cy="799" r="3.5" fill="#632523"/>
<circle cx="409.2" cy="808.3" r="3.5" fill="#632523"/>
<circle cx="441.8" cy="806.4" r="3.5" fill="#632523"/>
<circle cx="474.3" cy="777.2" r="3.5" fill="#632523"/>
<circle cx="506.9" cy="777.5" r="3.5" fill="#632523"/>
<circle cx="539.4" cy="781" r="3.5" fill="#632523"/>
<circle cx="572" cy="773.8" r="3.5" fill="#632523"/>
<circle cx="604.5" cy="762.4" r="3.5" fill="#632523"/>
<circle cx="637.1" cy="783.4" r="3.5" fill="#632523"/>
<polyline points="83.8,825.1 116.3,820 148.8,822.8 181.4,818.1 213.9,802.2 246.5,755.7 279,802.9 311.6,818.6 344.1,739.9 376.7,825.1 409.2,817.6 441.8,838 474.3,829.1 506.9,832 539.4,812.1 572,835.2 604.5,833.6 637.1,835" stroke="#FFFF00" stroke-width="2.5"/>
<circle cx="83.8" cy="825.1" r="3.5" fill="#FFFF00"/>
<circle cx="116.3" cy="820" r="3.5" fill="#FFFF00"/>
<circle cx="148.8" cy="822.8" r="3.5" fill="#FFFF00"/>
<circle cx="181.4" cy="818.1" r="3.5" fill="#FFFF00"/>
<circle cx="213.9" cy="802.2" r="3.5" fill="#FFFF00"/>
<circle cx="246.5" cy="755.7" r="3.5" fill="#FFFF00"/>
<circle cx="279" cy="802.9" r="3.5" fill="#FFFF00"/>
<circle cx="311.6" cy="818.6" r="3.5" fill="#FFFF00"/>
<circle cx="344.1" cy="739.9" r="3.5" fill="#FFFF00"/>
<circle cx="376.7" cy="825.1" r="3.5" fill="#FFFF00"/>
<circle cx="409.2" cy="817.6" r="3.5" fill="#FFFF00"/>
<circle cx="441.8" cy="838" r="3.5" fill="#FFFF00"/>
<circle cx="474.3" cy="829.1" r="3.5" fill="#FFFF00"/>
<circle cx="506.9" cy="832" r="3.5" fill="#FFFF00"/>
<circle cx="539.4" cy="812.1" r="3.5" fill="#FFFF00"/>
<circle cx="572" cy="835.2" r="3.5" fill="#FFFF00"/>
<circle cx="604.5" cy="833.6" r="3.5" fill="#FFFF00"/>
<circle cx="637.1" cy="835" r="3.5" fill="#FFFF00"/>
<polyline points="83.8,835.8 116.3,816.8 148.8,783.1 181.4,790 213.9,821.6 246.5,783.8 279,810.6 311.6,803.6 344.1,803.4 376.7,834 409.2,803.4 441.8,832 474.3,811.8 506.9,848.6 539.4,826.8 572,831.3 604.5,835.8 637.1,859.7" stroke="#66FFFF" stroke-width="2.1"/>
<circle cx="83.8" cy="835.8" r="3.5" fill="#66FFFF"/>
<circle cx="116.3" cy="816.8" r="3.5" fill="#66FFFF"/>
<circle cx="148.8" cy="783.1" r="3.5" fill="#66FFFF"/>
<circle cx="181.4" cy="790" r="3.5" fill="#66FFFF"/>
<circle cx="213.9" cy="821.6" r="3.5" fill="#66FFFF"/>
<circle cx="246.5" cy="783.8" r="3.5" fill="#66FFFF"/>
<circle cx="279" cy="810.6" r="3.5" fill="#66FFFF"/>
<circle cx="311.6" cy="803.6" r="3.5" fill="#66FFFF"/>
<circle cx="344.1" cy="803.4" r="3.5" fill="#66FFFF"/>
<circle cx="376.7" cy="834" r="3.5" fill="#66FFFF"/>
<circle cx="409.2" cy="803.4" r="3.5" fill="#66FFFF"/>
<circle cx="441.8" cy="832" r="3.5" fill="#66FFFF"/>
<circle cx="474.3" cy="811.8" r="3.5" fill="#66FFFF"/>
<circle cx="506.9" cy="848.6" r="3.5" fill="#66FFFF"/>
<circle cx="539.4" cy="826.8" r="3.5" fill="#66FFFF"/>
<circle cx="572" cy="831.3" r="3.5" fill="#66FFFF"/>
<circle cx="604.5" cy="835.8" r="3.5" fill="#66FFFF"/>
<circle cx="637.1" cy="859.7" r="3.5" fill="#66FFFF"/>
<polyline points="83.8,839.1 116.3,781.2 148.8,801.3 181.4,817.6 213.9,827.5 246.5,776.1 279,820.4 311.6,839.1 344.1,784.2 376.7,838 409.2,820.9 441.8,826.3 474.3,800.4 506.9,829.5 539.4,674.1 572,834.7 604.5,841.2 637.1,811.4" stroke="#00FF00" stroke-width="2.5"/>
<circle cx="83.8" cy="839.1" r="3.5" fill="#00FF00"/>
<circle cx="116.3" cy="781.2" r="3.5" fill="#00FF00"/>
<circle cx="148.8" cy="801.3" r="3.5" fill="#00FF00"/>
<circle cx="181.4" cy="817.6" r="3.5" fill="#00FF00"/>
<circle cx="213.9" cy="827.5" r="3.5" fill="#00FF00"/>
<circle cx="246.5" cy="776.1" r="3.5" fill="#00FF00"/>
<circle cx="279" cy="820.4" r="3.5" fill="#00FF00"/>
<circle cx="311.6" cy="839.1" r="3.5" fill="#00FF00"/>
<circle cx="344.1" cy="784.2" r="3.5" fill="#00FF00"/>
<circle cx="376.7" cy="838" r="3.5" fill="#00FF00"/>
<circle cx="409.2" cy="820.9" r="3.5" fill="#00FF00"/>
<circle cx="441.8" cy="826.3" r="3.5" fill="#00FF00"/>
<circle cx="474.3" cy="800.4" r="3.5" fill="#00FF00"/>
<circle cx="506.9" cy="829.5" r="3.5" fill="#00FF00"/>
<circle cx="539.4" cy="674.1" r="3.5" fill="#00FF00"/>
<circle cx="572" cy="834.7" r="3.5" fill="#00FF00"/>
<circle cx="604.5" cy="841.2" r="3.5" fill="#00FF00"/>
<circle cx="637.1" cy="811.4" r="3.5" fill="#00FF00"/>
<polyline points="83.8,832.1 116.3,780.7 148.8,796.6 181.4,791.9 213.9,814.6 246.5,799.4 279,822.3 311.6,837 344.1,752.7 376.7,835.6 409.2,820.4 441.8,830.3 474.3,782.6 506.9,829.6 539.4,670.9 572,827.6 604.5,832.7 637.1,831.3" stroke="#EC0FD0" stroke-width="2.5"/>
<circle cx="83.8" cy="832.1" r="3.5" fill="#DC24DC"/>
<circle cx="116.3" cy="780.7" r="3.5" fill="#DC24DC"/>
<circle cx="148.8" cy="796.6" r="3.5" fill="#DC24DC"/>
<circle cx="181.4" cy="791.9" r="3.5" fill="#DC24DC"/>
<circle cx="213.9" cy="814.6" r="3.5" fill="#DC24DC"/>
<circle cx="246.5" cy="799.4" r="3.5" fill="#DC24DC"/>
<circle cx="279" cy="822.3" r="3.5" fill="#DC24DC"/>
<circle cx="311.6" cy="837" r="3.5" fill="#DC24DC"/>
<circle cx="344.1" cy="752.7" r="3.5" fill="#DC24DC"/>
<circle cx="376.7" cy="835.6" r="3.5" fill="#DC24DC"/>
<circle cx="409.2" cy="820.4" r="3.5" fill="#DC24DC"/>
<circle cx="441.8" cy="830.3" r="3.5" fill="#DC24DC"/>
<circle cx="474.3" cy="782.6" r="3.5" fill="#DC24DC"/>
<circle cx="506.9" cy="829.6" r="3.5" fill="#DC24DC"/>
<circle cx="539.4" cy="670.9" r="3.5" fill="#DC24DC"/>
<circle cx="572" cy="827.6" r="3.5" fill="#DC24DC"/>
<circle cx="604.5" cy="832.7" r="3.5" fill="#DC24DC"/>
<circle cx="637.1" cy="831.3" r="3.5" fill="#DC24DC"/>
<polyline points="83.8,826.3 116.3,780.3 148.8,823.9 181.4,836.8 213.9,778 246.5,838 279,821.6 311.6,834.5 344.1,794 376.7,794.2 409.2,836.1 441.8,827.9 474.3,779.6 506.9,841.1 539.4,825 572,833.3 604.5,830 637.1,842.1" stroke="#FFBE00" stroke-width="2.5"/>
<circle cx="83.8" cy="826.3" r="3.5" fill="#FFBE00"/>
<circle cx="116.3" cy="780.3" r="3.5" fill="#FFBE00"/>
<circle cx="148.8" cy="823.9" r="3.5" fill="#FFBE00"/>
<circle cx="181.4" cy="836.8" r="3.5" fill="#FFBE00"/>
<circle cx="213.9" cy="778" r="3.5" fill="#FFBE00"/>
<circle cx="246.5" cy="838" r="3.5" fill="#FFBE00"/>
<circle cx="279" cy="821.6" r="3.5" fill="#FFBE00"/>
<circle cx="311.6" cy="834.5" r="3.5" fill="#FFBE00"/>
<circle cx="344.1" cy="794" r="3.5" fill="#FFBE00"/>
<circle cx="376.7" cy="794.2" r="3.5" fill="#FFBE00"/>
<circle cx="409.2" cy="836.1" r="3.5" fill="#FFBE00"/>
<circle cx="441.8" cy="827.9" r="3.5" fill="#FFBE00"/>
<circle cx="474.3" cy="779.6" r="3.5" fill="#FFBE00"/>
<circle cx="506.9" cy="841.1" r="3.5" fill="#FFBE00"/>
<circle cx="539.4" cy="825" r="3.5" fill="#FFBE00"/>
<circle cx="572" cy="833.3" r="3.5" fill="#FFBE00"/>
<circle cx="604.5" cy="830" r="3.5" fill="#FFBE00"/>
<circle cx="637.1" cy="842.1" r="3.5" fill="#FFBE00"/>
<polyline points="83.8,796.6 116.3,779.1 148.8,774.2 181.4,783.8 213.9,776.1 246.5,727.7 279,784.2 311.6,755 344.1,738 376.7,793.5 409.2,777.2 441.8,799.4 474.3,776 506.9,776.8 539.4,665.4 572,753.7 604.5,761.8 637.1,783" stroke="#4F6228" stroke-width="3.6"/>
<circle cx="83.8" cy="796.6" r="3.7" fill="#4F6228"/>
<circle cx="116.3" cy="779.1" r="3.7" fill="#4F6228"/>
<circle cx="148.8" cy="774.2" r="3.7" fill="#4F6228"/>
<circle cx="181.4" cy="783.8" r="3.7" fill="#4F6228"/>
<circle cx="213.9" cy="776.1" r="3.7" fill="#4F6228"/>
<circle cx="246.5" cy="727.7" r="3.7" fill="#4F6228"/>
<circle cx="279" cy="784.2" r="3.7" fill="#4F6228"/>
<circle cx="311.6" cy="755" r="3.7" fill="#4F6228"/>
<circle cx="344.1" cy="738" r="3.7" fill="#4F6228"/>
<circle cx="376.7" cy="793.5" r="3.7" fill="#4F6228"/>
<circle cx="409.2" cy="777.2" r="3.7" fill="#4F6228"/>
<circle cx="441.8" cy="799.4" r="3.7" fill="#4F6228"/>
<circle cx="474.3" cy="776" r="3.7" fill="#4F6228"/>
<circle cx="506.9" cy="776.8" r="3.7" fill="#4F6228"/>
<circle cx="539.4" cy="665.4" r="3.7" fill="#4F6228"/>
<circle cx="572" cy="753.7" r="3.7" fill="#4F6228"/>
<circle cx="604.5" cy="761.8" r="3.7" fill="#4F6228"/>
<circle cx="637.1" cy="783" r="3.7" fill="#4F6228"/>
</g></g>
<line x1="38" y1="934.1" x2="65.8" y2="934.1" stroke="#FF0000" stroke-width="2.8" stroke-linecap="round"/>
<ellipse cx="51.6" cy="934.1" rx="3.4" ry="4.6" fill="#FF0000"/>
<text transform="translate(69.5 939.4) scale(0.93 1)" font-size="14.3">Dadhahu</text>
<line x1="166.5" y1="934.1" x2="194.3" y2="934.1" stroke="#0070C0" stroke-width="2.8" stroke-linecap="round"/>
<ellipse cx="180.1" cy="934.1" rx="3.4" ry="4.6" fill="#0070C0"/>
<text transform="translate(198 939.4) scale(0.93 1)" font-size="14.3">Nahan</text>
<line x1="294.6" y1="934.1" x2="322.4" y2="934.1" stroke="#E36C09" stroke-width="2.8" stroke-linecap="round"/>
<ellipse cx="308.2" cy="934.1" rx="3.4" ry="4.6" fill="#C00000"/>
<text transform="translate(326.1 939.4) scale(0.93 1)" font-size="14.3">Naraingarh</text>
<line x1="423.4" y1="934.1" x2="451.2" y2="934.1" stroke="#FFFF00" stroke-width="2.8" stroke-linecap="round"/>
<ellipse cx="437" cy="934.1" rx="3.4" ry="4.6" fill="#FFFF00"/>
<text transform="translate(454.9 939.4) scale(0.93 1)" font-size="14.3">Ambala</text>
<line x1="552.1" y1="934.1" x2="579.9" y2="934.1" stroke="#66FFFF" stroke-width="2.8" stroke-linecap="round"/>
<ellipse cx="565.7" cy="934.1" rx="3.4" ry="4.6" fill="#66FFFF"/>
<text transform="translate(583.6 939.4) scale(0.93 1)" font-size="14.3">Shahabad</text>
<line x1="38" y1="961.9" x2="65.8" y2="961.9" stroke="#00FF00" stroke-width="2.8" stroke-linecap="round"/>
<ellipse cx="51.6" cy="961.9" rx="4.1" ry="5.2" fill="#00FF00"/>
<text transform="translate(69.5 966.9) scale(0.93 1)" font-size="14.3">Jhansa</text>
<line x1="166.5" y1="961.9" x2="194.3" y2="961.9" stroke="#EC0FD0" stroke-width="2.8" stroke-linecap="round"/>
<ellipse cx="180.1" cy="961.9" rx="3.4" ry="4.6" fill="#DC24DC"/>
<text transform="translate(198 966.9) scale(0.93 1)" font-size="14.3">Jansui</text>
<line x1="294.6" y1="961.9" x2="322.4" y2="961.9" stroke="#FFBE00" stroke-width="2.8" stroke-linecap="round"/>
<ellipse cx="308.2" cy="961.9" rx="3.4" ry="4.6" fill="#FFBE00"/>
<text transform="translate(326.1 966.9) scale(0.93 1)" font-size="14.3">Gulha</text>
<line x1="423.4" y1="961.9" x2="451.2" y2="961.9" stroke="#4F6228" stroke-width="3.5" stroke-linecap="round"/>
<ellipse cx="437" cy="961.9" rx="3.1" ry="4" fill="#4F6228" stroke="#22A02C" stroke-width="1.2"/>
<text transform="translate(457.5 966.9) scale(0.93 1)" font-size="14.3">Mean Rainfall</text>
</svg></body></html>
